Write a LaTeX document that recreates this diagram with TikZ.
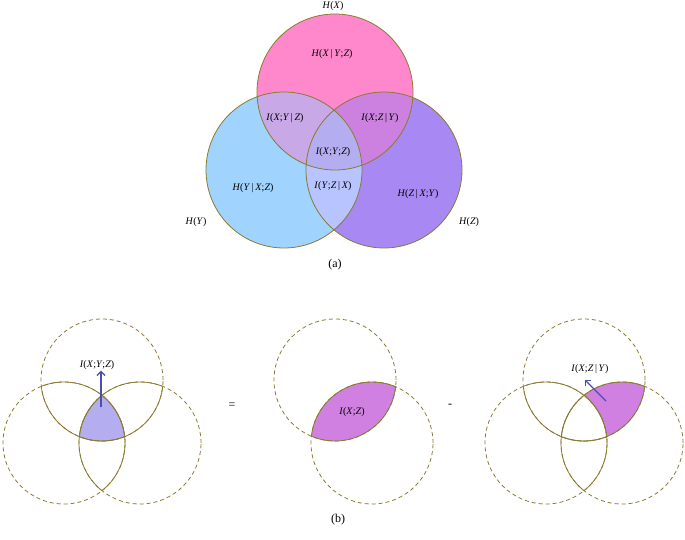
\documentclass[tikz,border=0pt]{standalone}
\usepackage{fontspec}
\setmainfont{Liberation Serif}
\usetikzlibrary{arrows.meta}
\begin{document}
\begin{tikzpicture}[x=1pt,y=-1pt,
  lbl/.style={font=\fontsize{10}{12}\selectfont,inner sep=1pt},
  edge/.style={draw=olive!60!brown!80!black,line width=0.8pt},
  dashedge/.style={draw=olive!60!brown!80!black,line width=0.8pt,dash pattern=on 4pt off 3pt},
  arr/.style={-{Straight Barb[length=4pt]},draw=blue!40!gray,line width=1.2pt}]
\useasboundingbox (0,0) rectangle (685,540);
\def\R{78pt}
\def\r{61pt}
\definecolor{cpink}{HTML}{FF88CC}
\definecolor{cblue}{HTML}{A0D4FF}
\definecolor{cpurp}{HTML}{A888F2}
\definecolor{cXY}{HTML}{C8A8E6}
\definecolor{cXZ}{HTML}{CC80E0}
\definecolor{cYZ}{HTML}{B8C4FF}
\definecolor{cXYZ}{HTML}{B4AEF0}
\definecolor{clens}{HTML}{D080E0}
% ---- (a)
\coordinate (X) at (335,92);
\coordinate (Y) at (284,170);
\coordinate (Z) at (384,170);
\fill[cblue] (Y) circle (\R);
\fill[cpurp] (Z) circle (\R);
\fill[cpink] (X) circle (\R);
\begin{scope}\clip (X) circle (\R); \fill[cXY] (Y) circle (\R); \end{scope}
\begin{scope}\clip (X) circle (\R); \fill[cXZ] (Z) circle (\R); \end{scope}
\begin{scope}\clip (Y) circle (\R); \fill[cYZ] (Z) circle (\R); \end{scope}
\begin{scope}\clip (Y) circle (\R); \clip (Z) circle (\R); \fill[cXYZ] (X) circle (\R); \end{scope}
\draw[edge] (X) circle (\R) (Y) circle (\R) (Z) circle (\R);
\node[lbl] (hx) at (333,6) {\textit{H}(\textit{X})};
\node[lbl] (hy) at (196,222) {\textit{H}(\textit{Y})};
\node[lbl] (hz) at (469,222) {\textit{H}(\textit{Z})};
\node[lbl] (hxyz) at (332,54) {\textit{H}(\textit{X}\,|\,\textit{Y};\textit{Z})};
\node[lbl] (ixyz1) at (285,118) {\textit{I}(\textit{X};\textit{Y}\,|\,\textit{Z})};
\node[lbl] (ixzy) at (380,118) {\textit{I}(\textit{X};\textit{Z}\,|\,\textit{Y})};
\node[lbl] (ixyz) at (333,152) {\textit{I}(\textit{X};\textit{Y};\textit{Z})};
\node[lbl] (hyxz) at (253,188) {\textit{H}(\textit{Y}\,|\,\textit{X};\textit{Z})};
\node[lbl] (iyzx) at (333,186) {\textit{I}(\textit{Y};\textit{Z}\,|\,\textit{X})};
\node[lbl] (hzxy) at (418,194) {\textit{H}(\textit{Z}\,|\,\textit{X};\textit{Y})};
\node[font=\fontsize{12}{14}\selectfont] (capa) at (335,265) {(a)};
% ---- (b) left
\coordinate (A1) at (102,380);
\coordinate (A2) at (64,443);
\coordinate (A3) at (140,443);
\begin{scope}\clip (A2) circle (\r); \clip (A3) circle (\r); \fill[cXYZ] (A1) circle (\r); \end{scope}
\draw[dashedge] (A1) circle (\r) (A2) circle (\r) (A3) circle (\r);
\begin{scope}\clip (A1) circle (\r); \draw[edge] (A2) circle (\r) (A3) circle (\r); \end{scope}
\begin{scope}\clip (A2) circle (\r); \draw[edge] (A1) circle (\r) (A3) circle (\r); \end{scope}
\begin{scope}\clip (A3) circle (\r); \draw[edge] (A1) circle (\r) (A2) circle (\r); \end{scope}
\node[lbl] (la) at (97,365) {\textit{I}(\textit{X};\textit{Y};\textit{Z})};
\coordinate (a1s) at (101,407);
\draw[arr] (a1s) -- (la.south -| a1s);
% ---- middle
\coordinate (B1) at (335,380);
\coordinate (B3) at (372,443);
\begin{scope}\clip (B1) circle (\r); \fill[clens] (B3) circle (\r); \end{scope}
\draw[dashedge] (B1) circle (\r) (B3) circle (\r);
\begin{scope}\clip (B1) circle (\r); \draw[edge] (B3) circle (\r); \end{scope}
\begin{scope}\clip (B3) circle (\r); \draw[edge] (B1) circle (\r); \end{scope}
\node[lbl] (lb) at (352,412) {\textit{I}(\textit{X};\textit{Z})};
% ---- right
\coordinate (C1) at (584,380);
\coordinate (C2) at (546,443);
\coordinate (C3) at (622,443);
\begin{scope}
  \clip (C1) circle (\r);
  \clip (C3) circle (\r);
  \fill[clens] (C1) circle (\r);
  \fill[white] (C2) circle (\r);
\end{scope}
\draw[dashedge] (C1) circle (\r) (C2) circle (\r) (C3) circle (\r);
\begin{scope}\clip (C1) circle (\r); \draw[edge] (C2) circle (\r) (C3) circle (\r); \end{scope}
\begin{scope}\clip (C2) circle (\r); \draw[edge] (C1) circle (\r) (C3) circle (\r); \end{scope}
\begin{scope}\clip (C3) circle (\r); \draw[edge] (C1) circle (\r) (C2) circle (\r); \end{scope}
\node[lbl] (lc) at (590,369) {\textit{I}(\textit{X};\textit{Z}\,|\,\textit{Y})};
\coordinate (c1s) at (606,401);
\coordinate (c1e) at (585,380);
\draw[arr] (c1s) -- (c1e);
\node[font=\fontsize{12}{14}\selectfont] (eq) at (232,406) {=};
\node[font=\fontsize{12}{14}\selectfont] (mi) at (450,406) {-};
\node[font=\fontsize{12}{14}\selectfont] (capb) at (338,520) {(b)};
\end{tikzpicture}
\end{document}
